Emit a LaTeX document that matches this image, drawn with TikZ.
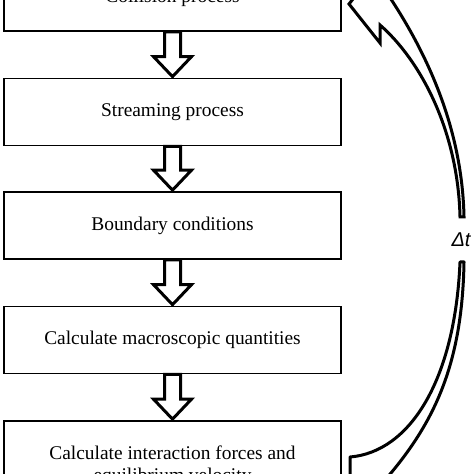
\documentclass[tikz,border=0pt]{standalone}
\usepackage{fontspec}
\setmainfont{Liberation Serif}
\newfontfamily\labelfont{Liberation Sans}
\usetikzlibrary{calc}

% hollow block arrow between two boxes
\newcommand{\flowarrow}[2]{%
  \draw[hollow] ($(#1.south)+(-8,0)$) -- ($(#2.north)+(-8,-21)$) -- ($(#2.north)+(-19,-21)$)
    -- ($(#2.north)+(0,-1)$) -- ($(#2.north)+(19,-21)$) -- ($(#2.north)+(8,-21)$)
    -- ($(#1.south)+(8,0)$) -- cycle;}

\begin{document}
\begin{tikzpicture}[x=0.5pt,y=-0.5pt,
  stepbox/.style={draw,line width=0.85pt,minimum width=168.5pt,minimum height=33.5pt,
    inner sep=0pt,align=center,font=\fontsize{9.7}{11}\selectfont},
  hollow/.style={draw,fill=white,line width=1.5pt,line join=miter}
]
  \useasboundingbox (0,0) rectangle (474,474);
  \clip (0,0) rectangle (474,474);
  \fill[white] (0,0) rectangle (474,474);

  % LBM steps
  \node[stepbox] (coll) at (172.5,-2.5) {Collision process};
  \node[stepbox] (stream) at (172.5,112) {Streaming process};
  \node[stepbox] (bound) at (172.5,225.5) {Boundary conditions};
  \node[stepbox] (macro) at (172.5,340) {Calculate macroscopic quantities};
  \node[stepbox,minimum height=45pt] (force) at (172.5,466)
    {Calculate interaction forces and\\equilibrium velocity};

  \flowarrow{coll}{stream}
  \flowarrow{stream}{bound}
  \flowarrow{bound}{macro}
  \flowarrow{macro}{force}

  % time step loop
  \node[font=\labelfont\itshape\fontsize{10}{12}\selectfont,inner sep=1pt] (dt) at (461,240) {Δt};
  \draw[hollow] (349,4) -- (380,43) -- (380,25) .. controls (420,60) and (458,130) .. (460,217)
    -- (464,217) .. controls (462,120) and (420,40) .. (380,-17) -- (380,-35) -- cycle;
  \draw[hollow,line join=round] (460,262) .. controls (455,380) and (410,452) .. (350,457)
    -- (350,505) -- (362,505) .. controls (425,440) and (462,380) .. (464,262) -- cycle;
\end{tikzpicture}
\end{document}
